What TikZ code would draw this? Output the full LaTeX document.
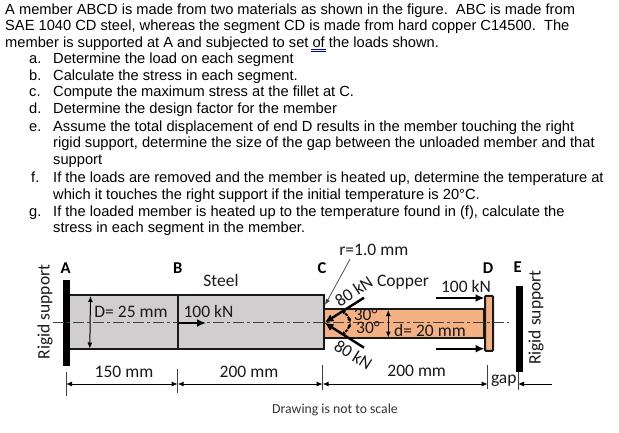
\documentclass[tikz,border=0pt]{standalone}
\usepackage{fontspec}
\setmainfont{Liberation Sans}
\newfontfamily\calibrifont{Carlito}
\usetikzlibrary{arrows.meta,shapes.geometric}
\definecolor{copperfill}{HTML}{F4B183}
\definecolor{steelfill}{HTML}{D0CECE}
\tikzset{
  para/.style={anchor=base west,inner sep=0pt,font=\fontsize{14.67}{16}\selectfont,text=black},
  lbl/.style={inner sep=0pt,font=\calibrifont\fontsize{17.5}{19}\selectfont,text=black!90},
  letter/.style={inner sep=0pt,font=\calibrifont\bfseries\fontsize{16.5}{18}\selectfont},
  bar/.style={draw=black!90,line width=2pt,inner sep=0pt,rectangle},
  wall/.style={fill=black,draw=black,inner sep=0pt,rectangle,minimum width=6pt},
  center line/.style={draw=black!75,line width=0.9pt,dash pattern=on 11pt off 3pt on 3pt off 3pt},
  force/.style={draw=black,line width=2.4pt,-{Latex[length=9pt,width=8pt]}},
  dim/.style={draw=black,line width=1pt,{Latex[length=6pt,width=5pt]}-{Latex[length=6pt,width=5pt]}},
  tick/.style={draw=black!75,line width=1pt},
  angle arc/.style={draw=black,line width=2pt,{Latex[length=4pt,width=4pt]}-{Latex[length=4pt,width=4pt]}},
}
\begin{document}
\begin{tikzpicture}[x=1pt,y=-1pt]
\useasboundingbox (0,0) rectangle (619,432);
% problem text
\node[para] (t1) at (5,14) {A member ABCD is made from two materials as shown in the figure.\ \ ABC is made from};
\node[para] (t2) at (5,30.5) {SAE 1040 CD steel, whereas the segment CD is made from hard copper C14500.\ \ The};
\node[para] (t3) at (5,47) {member is supported at A and subjected to set of the loads shown.};
\node[para] (a1) at (29,63.5) {a.};  \node[para] (a2) at (53,63.5) {Determine the load on each segment};
\node[para] (b1) at (29,80) {b.};    \node[para] (b2) at (53,80) {Calculate the stress in each segment.};
\node[para] (c1) at (29,96.5) {c.};  \node[para] (c2) at (53,96.5) {Compute the maximum stress at the fillet at C.};
\node[para] (d1) at (29,113) {d.};   \node[para] (d2) at (53,113) {Determine the design factor for the member};
\node[para] (e1) at (29,131) {e.};   \node[para] (e2) at (53,131) {Assume the total displacement of end D results in the member touching the right};
\node[para] (e3) at (53,147.5) {rigid support, determine the size of the gap between the unloaded member and that};
\node[para] (e4) at (53,164) {support};
\node[para] (f1) at (31,182.5) {f.};  \node[para] (f2) at (53,182.5) {If the loads are removed and the member is heated up, determine the temperature at};
\node[para] (f3) at (53,199) {which it touches the right support if the initial temperature is 20\textdegree C.};
\node[para] (g1) at (29,216) {g.};   \node[para] (g2) at (53,216) {If the loaded member is heated up to the temperature found in (f), calculate the};
\node[para] (g3) at (53,232.5) {stress in each segment in the member.};
\coordinate (ul1) at (311,49); \coordinate (ul2) at (326,49);
\coordinate (ul3) at (311,51); \coordinate (ul4) at (326,51);
\draw[blue!70!black,line width=0.7pt] (ul1) -- (ul2) (ul3) -- (ul4);
% bars
\node[bar,fill=copperfill,minimum width=160pt,minimum height=29.3pt] (copper) at (404,323.6) {};
\node[bar,fill=steelfill,minimum width=108.5pt,minimum height=53.5pt] (ab) at (123.5,322) {};
\node[bar,fill=steelfill,minimum width=146.3pt,minimum height=53.5pt] (bc) at (250.8,322) {};
\node[bar,fill=copperfill,minimum width=8pt,minimum height=55pt,rounded corners=1pt] (flange) at (489,323.4) {};
\node[wall,minimum height=84.3pt] (wallA) at (66.3,322.8) {};
\node[wall,minimum height=84.3pt] (wallE) at (518.7,328.8) {};
% centre line
\coordinate (cl1) at (53,322.7); \coordinate (cl2) at (509,322.7);
\draw[center line] (cl1) -- (cl2);
% angle and force geometry
\coordinate (tipC) at (324.5,322.7);
\coordinate (up80) at (364,297.7);
\coordinate (lo80) at (364,347.7);
\coordinate (arcM) at (350.5,322.7);
\coordinate (arcU) at (341.5,310.5);
\coordinate (arcL) at (341.5,335);
\draw[angle arc,dash pattern=on 3pt off 1pt] (arcM) to[bend right=18] (arcU);
\draw[angle arc,dash pattern=on 3pt off 1pt] (arcM) to[bend left=18] (arcL);
\draw[force] (up80) -- (tipC);
\draw[force] (lo80) -- (tipC);
% 100 kN forces
\coordinate (fb1) at (178,323); \coordinate (fb2) at (206,323);
\draw[force] (fb1) -- (fb2);
\coordinate (fd1) at (435.5,298); \coordinate (fd2) at (484.5,298);
\coordinate (fd3) at (435.5,348.7); \coordinate (fd4) at (484.5,348.7);
\draw[force] (fd1) -- (fd2);
\draw[force] (fd3) -- (fd4);
% diameters
\coordinate (Dt) at (90.5,296); \coordinate (Db) at (89.8,348.5);
\draw[dim] (Dt) -- (Db);
\coordinate (dt) at (388.3,310); \coordinate (db) at (388.3,337.5);
\draw[dim] (dt) -- (db);
% fillet leader
\coordinate (r1) at (350,259.3); \coordinate (r2) at (325,305);
\draw[draw=black!75,line width=0.7pt,-{Latex[length=6pt,width=4.5pt]}] (r1) -- (r2);
% dimension ticks
\coordinate (ta1) at (66,372);    \coordinate (ta2) at (66,395.7);
\coordinate (tb1) at (177.7,369); \coordinate (tb2) at (177.7,393);
\coordinate (tc1) at (322.7,365); \coordinate (tc2) at (322.7,390);
\coordinate (td1) at (487.7,365); \coordinate (td2) at (487.7,389);
\coordinate (te1) at (518,372);   \coordinate (te2) at (518,390);
\draw[tick] (ta1) -- (ta2) (tb1) -- (tb2) (tc1) -- (tc2) (td1) -- (td2) (te1) -- (te2);
% dimension lines
\coordinate (da) at (66,384);    \coordinate (dbb) at (177.7,384);
\coordinate (dc) at (322.7,384); \coordinate (dd) at (487.7,384);
\coordinate (de) at (518,384);   \coordinate (df) at (551.7,384);
\draw[dim] (da) -- (dbb);
\draw[dim] (dbb) -- (dc);
\draw[dim] (dc) -- (dd);
\draw[draw=black,line width=1pt,-{Latex[length=6pt,width=5pt]}] (df) -- (de);
% labels
\node[letter] (lA) at (65.7,268) {A};
\node[letter] (lB) at (177.7,268) {B};
\node[letter] (lC) at (322,268) {C};
\node[letter] (lD) at (488,268.5) {D};
\node[letter] (lE) at (517.7,267) {E};
\node[lbl] (rr) at (373.8,250) {r=1.0 mm};
\node[lbl] (steel) at (221,280) {Steel};
\node[lbl] (Dlab) at (131,312) {D= 25 mm};
\node[lbl] (f100a) at (208.5,311) {100 kN};
\node[lbl] (copperlab) at (403,282) {Copper};
\node[lbl] (f100b) at (466,286.7) {100 kN};
\node[lbl,rotate=33] (f80a) at (353.7,291) {80 kN};
\node[lbl,rotate=-32] (f80b) at (353.3,355) {80 kN};
\node[lbl] (a30) at (365.7,315) {30\textdegree};
\node[lbl] (b30) at (368,328) {30\textdegree};
\node[lbl] (dlab) at (430,330) {d= 20 mm};
\node[lbl] (l150) at (124,372) {150 mm};
\node[lbl] (l200a) at (249,372) {200 mm};
\node[lbl] (l200b) at (416.7,371) {200 mm};
\node[lbl] (gap) at (503.8,380.5) {gap};
\node[lbl,rotate=90] (rsA) at (45,312) {Rigid support};
\node[lbl,rotate=90] (rsE) at (536,317.5) {Rigid support};
\node[inner sep=0pt,font=\calibrifont\fontsize{13.75}{15}\selectfont,text=black!80] (note) at (335,410) {Drawing is not to scale};
\end{tikzpicture}
\end{document}
